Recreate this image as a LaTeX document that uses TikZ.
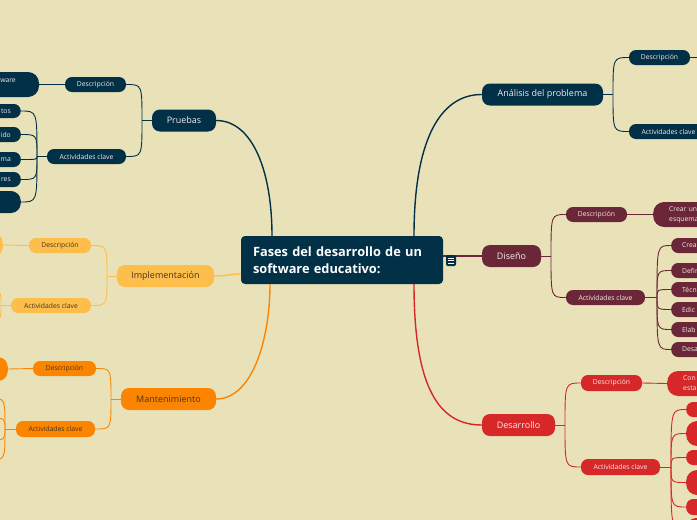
\documentclass[tikz,border=0pt]{standalone}
\usepackage{fontspec}
\setmainfont{Open Sans}
\usetikzlibrary{calc}
\definecolor{bg}{HTML}{E9E2B9}
\definecolor{navy}{HTML}{023047}
\definecolor{maroon}{HTML}{6B2737}
\definecolor{redc}{HTML}{D62828}
\definecolor{orangec}{HTML}{FB8500}
\definecolor{yellowc}{HTML}{FDBE4C}
\definecolor{darktxt}{HTML}{4A3418}
\definecolor{lighttxt}{HTML}{F2ECEE}
\tikzset{
  topic/.style={rounded corners=8pt, inner sep=0pt, minimum height=22pt, font=\fontsize{9}{10}\selectfont},
  sub/.style={rounded corners=7pt, inner sep=0pt, minimum height=15pt, font=\fontsize{6.8}{7}\selectfont},
  nv/.style={fill=navy, text=lighttxt},
  mr/.style={fill=maroon, text=lighttxt},
  rd/.style={fill=redc, text=lighttxt},
  og/.style={fill=orangec, text=darktxt},
  yl/.style={fill=yellowc, text=darktxt},
  leafL/.style={sub, anchor=east, align=right, inner xsep=10pt, text width=31pt},
  leafR/.style={sub, anchor=west, align=left, inner xsep=11pt, text width=40pt},
  bigleaf/.style={sub, minimum height=25pt, rounded corners=11pt, anchor=west, align=left, inner xsep=16pt, text width=60pt, font=\fontsize{6.8}{10}\selectfont},
  mainln/.style={line width=1.4pt},
  subln/.style={line width=0.9pt}
}
\begin{document}
\begin{tikzpicture}[x=1pt, y=-1pt]
\useasboundingbox (0,0) rectangle (697,520);
\fill[bg] (0,0) rectangle (697,520);
\clip (0,0) rectangle (697,520);

% ---------- central node
\node[fill=navy, rounded corners=4pt, minimum width=202pt, minimum height=48pt,
      text width=178pt, inner xsep=12pt, inner ysep=0pt, align=left, text=white,
      font=\fontsize{12.8}{17}\selectfont\bfseries] (c) at (342,260)
      {Fases del desarrollo de un\\software educativo:};
\coordinate (cTL) at (272,236);
\coordinate (cTR) at (414,236);
\coordinate (cBL) at (270,284);
\coordinate (cBR) at (414,284);
\coordinate (cL) at (241,274);
\coordinate (cR) at (443,256);

% ---------- topics
\node[topic, nv, minimum width=64pt]  (pru) at (184,120.5) {Pruebas};
\node[topic, yl, minimum width=97pt]  (imp) at (165.5,276) {Implementación};
\node[topic, og, minimum width=95pt]  (man) at (168.5,399) {Mantenimiento};
\node[topic, nv, minimum width=121pt] (ana) at (542.5,94.5) {Análisis del problema};
\node[topic, mr, minimum width=59pt]  (dis) at (511.5,256) {Diseño};
\node[topic, rd, minimum width=73pt]  (des) at (518.5,425) {Desarrollo};

% ---------- main connectors
\draw[mainln, navy] (pru.east) .. controls (252,120.5) and (272,170) .. (cTL);
\draw[mainln, yellowc] (imp.east) .. controls (228,276) and (230,274) .. (cL);
\draw[mainln, orangec] (man.east) .. controls (252,399) and (270,340) .. (cBL);
\draw[mainln, navy] (cTR) .. controls (414,140) and (440,94.5) .. (ana.west);
\draw[mainln, maroon] (cR) -- (dis.west);
\draw[mainln, redc] (cBR) .. controls (414,390) and (440,425) .. (des.west);

% icon
\node[fill=navy, rounded corners=1.5pt, minimum width=10pt, minimum height=11pt, inner sep=0pt] (ic) at (451,260.5) {};
\foreach \dy in {-2.5,0,2.5}
  \draw[white, line width=0.8pt] ($(ic.center)+(-3,\dy)$) -- ++(6,0);

% ---------- Pruebas branch
\node[sub, nv, minimum width=61pt] (pdesc) at (95.5,84.5) {Descripción};
\node[sub, nv, minimum width=79pt] (pact) at (86.5,156.5) {Actividades clave};
\node[sub, nv, minimum width=79pt, minimum height=25pt, rounded corners=11pt] (pw) at (-0.5,84.5) {};
\node[font=\fontsize{6.8}{7}\selectfont, text=lighttxt, anchor=east, inner sep=0pt] (pwt) at (16,81) {ware};
\node[leafL, nv, minimum height=14pt] (pc1) at (21,111) {tos};
\node[leafL, nv] (pc2) at (21,134.5) {ido};
\node[leafL, nv] (pc3) at (21,159.5) {ma};
\node[leafL, nv] (pc4) at (21,179.5) {res};
\node[leafL, nv, minimum height=22pt, rounded corners=10pt] (pc5) at (21,202) {};
\coordinate (psp) at (142,120.5);
\coordinate (pasp) at (37,156.5);
\begin{scope}[navy, subln]
\draw (pru.west) -- (psp);
\draw (psp) .. controls (psp |- pdesc.east) .. (pdesc.east);
\draw (psp) .. controls (psp |- pact.east) .. (pact.east);
\draw (pdesc.west) -- (pw.east);
\draw (pact.west) -- (pasp);
\foreach \n in {pc1,pc2,pc3,pc4,pc5}
  \draw (pasp) .. controls (pasp |- \n.east) .. (\n.east);
\end{scope}

% ---------- Implementacion branch
\node[sub, yl, minimum width=62pt] (idesc) at (60,245.5) {Descripción};
\node[sub, yl, minimum width=80pt] (iact) at (51,305.5) {Actividades clave};
\node[sub, yl, minimum width=30pt, minimum height=24pt, rounded corners=10pt, anchor=east] (icl) at (3,245) {};
\coordinate (isp) at (107,276);
\coordinate (iasp) at (1,305.5);
\coordinate (ix1) at (-15,290);
\coordinate (ix2) at (-15,321);
\begin{scope}[yellowc, subln]
\draw (imp.west) -- (isp);
\draw (isp) .. controls (isp |- idesc.east) .. (idesc.east);
\draw (isp) .. controls (isp |- iact.east) .. (iact.east);
\draw (idesc.west) -- (icl.east);
\draw (iact.west) -- (iasp);
\draw (iasp) .. controls (iasp |- ix1) .. (ix1);
\draw (iasp) .. controls (iasp |- ix2) .. (ix2);
\end{scope}

% ---------- Mantenimiento branch
\node[sub, og, minimum width=63pt] (mdesc) at (64.5,368.5) {Descripción};
\node[sub, og, minimum width=79pt, minimum height=16pt] (mact) at (55.5,429) {Actividades clave};
\node[sub, og, minimum width=30pt, minimum height=24pt, rounded corners=10pt, anchor=east] (mcl) at (8,369) {};
\coordinate (msp) at (111,399);
\coordinate (masp) at (5,429);
\coordinate (mx1) at (-10,398);
\coordinate (mx2) at (-10,418);
\coordinate (mx3) at (-10,440);
\coordinate (mx4) at (-10,460);
\begin{scope}[orangec, subln]
\draw (man.west) -- (msp);
\draw (msp) .. controls (msp |- mdesc.east) .. (mdesc.east);
\draw (msp) .. controls (msp |- mact.east) .. (mact.east);
\draw (mdesc.west) -- (mcl.east);
\draw (mact.west) -- (masp);
\foreach \n in {mx1,mx2,mx3,mx4}
  \draw (masp) .. controls (masp |- \n) .. (\n);
\end{scope}

% ---------- Analisis branch
\node[sub, nv, minimum width=61pt] (adesc) at (659.5,57.5) {Descripción};
\node[sub, nv, minimum width=79pt] (aact) at (668.5,131.5) {Actividades clave};
\coordinate (asp) at (613,94.5);
\coordinate (ax) at (715,57.5);
\begin{scope}[navy, subln]
\draw (ana.east) -- (asp);
\draw (asp) .. controls (asp |- adesc.west) .. (adesc.west);
\draw (asp) .. controls (asp |- aact.west) .. (aact.west);
\draw (adesc.east) -- (ax);
\end{scope}

% ---------- Diseno branch
\node[sub, mr, minimum width=61pt] (ddesc) at (596.5,214.5) {Descripción};
\node[sub, mr, minimum width=79pt] (dact) at (605.5,297.5) {Actividades clave};
\node[bigleaf, mr] (dcr) at (653,214.5) {Crear un\\esquema};
\node[leafR, mr] (d1) at (671,245.5) {Crea};
\node[leafR, mr] (d2) at (671,270.5) {Defin};
\node[leafR, mr] (d3) at (671,289.5) {Técn};
\node[leafR, mr] (d4) at (671,309.5) {Edic};
\node[leafR, mr] (d5) at (671,329.5) {Elab};
\node[leafR, mr] (d6) at (671,349.5) {Desa};
\coordinate (dsp) at (551,256);
\coordinate (dasp) at (657,297.5);
\begin{scope}[maroon, subln]
\draw (dis.east) -- (dsp);
\draw (dsp) .. controls (dsp |- ddesc.west) .. (ddesc.west);
\draw (dsp) .. controls (dsp |- dact.west) .. (dact.west);
\draw (ddesc.east) -- (dcr.west);
\draw (dact.east) -- (dasp);
\foreach \n in {d1,d2,d3,d4,d5,d6}
  \draw (dasp) .. controls (dasp |- \n.west) .. (\n.west);
\end{scope}

% ---------- Desarrollo branch
\node[sub, rd, minimum width=61pt, minimum height=16pt] (vdesc) at (611.5,383) {Descripción};
\node[sub, rd, minimum width=79pt, minimum height=16pt] (vact) at (620.5,467) {Actividades clave};
\node[bigleaf, rd] (vcon) at (667,383.5) {Con\\esta};
\node[leafR, rd] (v1) at (686,409.5) {};
\node[leafR, rd, minimum height=25pt, rounded corners=11pt] (v2) at (686,433.5) {};
\node[leafR, rd] (v3) at (686,457.5) {};
\node[leafR, rd, minimum height=25pt, rounded corners=11pt] (v4) at (686,482.5) {};
\node[leafR, rd, minimum height=16pt] (v5) at (686,507) {};
\node[leafR, rd, minimum height=22pt, rounded corners=10pt] (v6) at (686,529) {};
\coordinate (vsp) at (565,425);
\coordinate (vasp) at (671,467);
\begin{scope}[redc, subln]
\draw (des.east) -- (vsp);
\draw (vsp) .. controls (vsp |- vdesc.west) .. (vdesc.west);
\draw (vsp) .. controls (vsp |- vact.west) .. (vact.west);
\draw (vdesc.east) -- (vcon.west);
\draw (vact.east) -- (vasp);
\foreach \n in {v1,v2,v3,v4,v5,v6}
  \draw (vasp) .. controls (vasp |- \n.west) .. (\n.west);
\end{scope}
\end{tikzpicture}
\end{document}
